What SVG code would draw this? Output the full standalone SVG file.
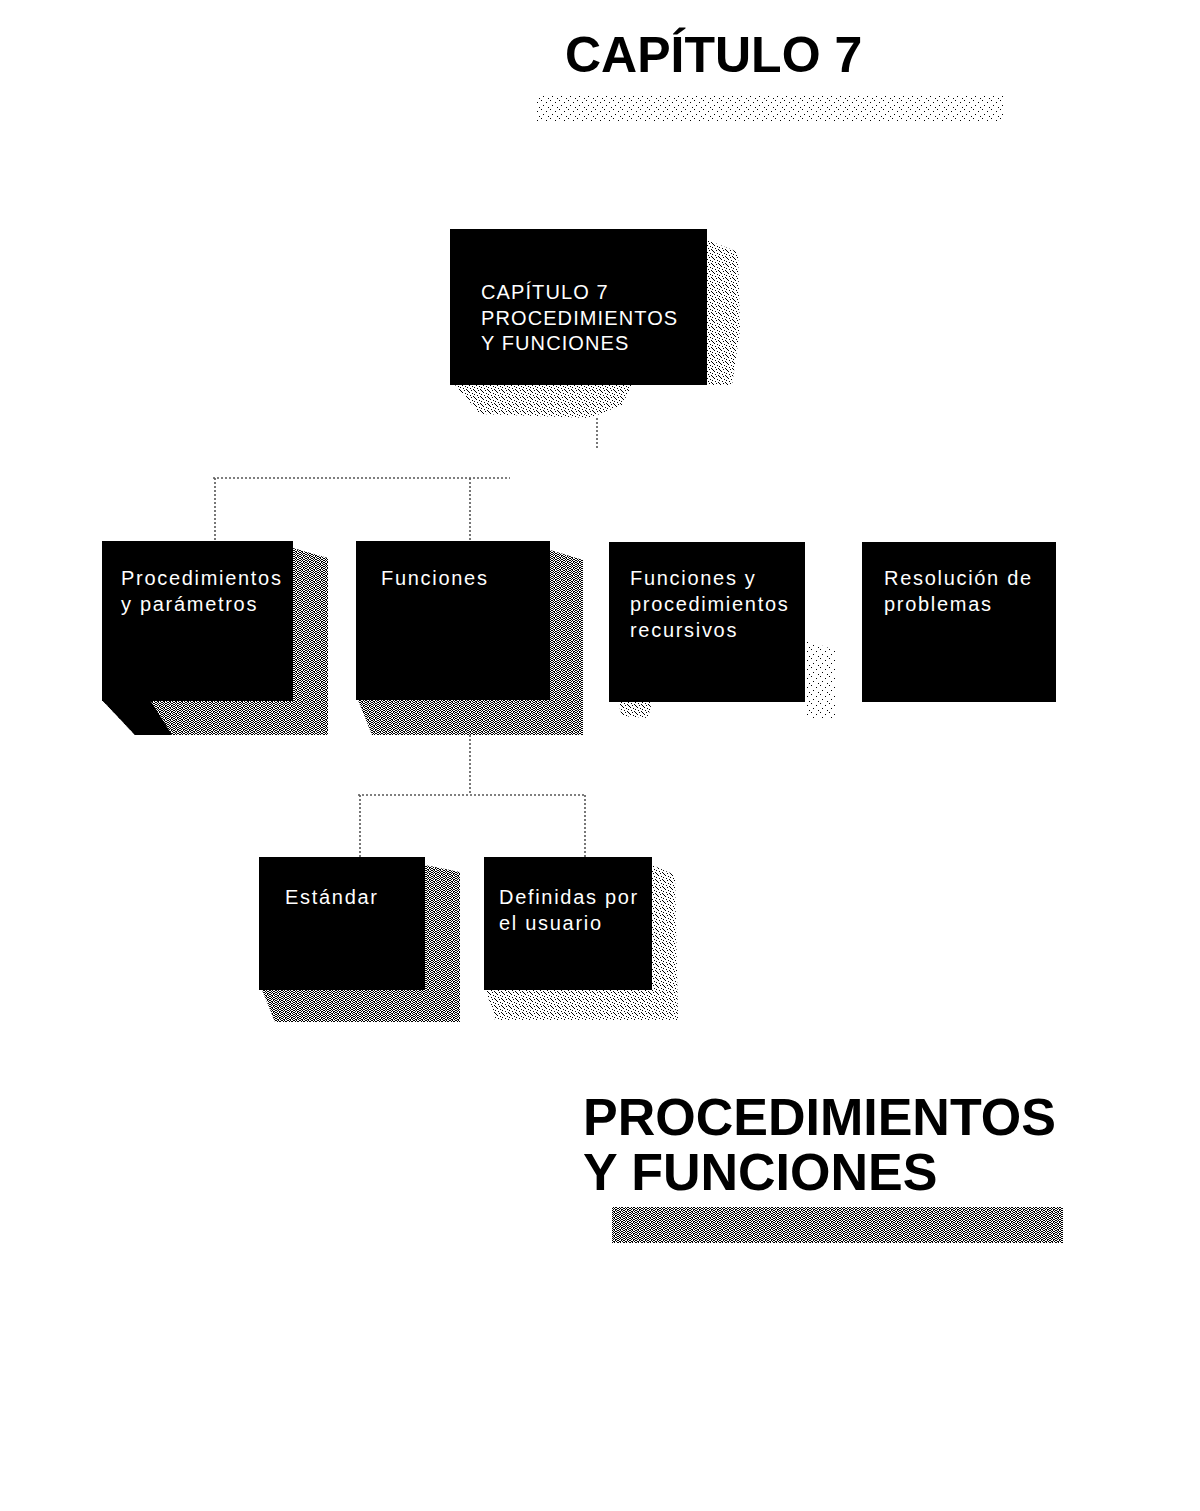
<svg xmlns="http://www.w3.org/2000/svg" width="1200" height="1511" viewBox="0 0 1200 1511">
<defs>
<pattern id="dense" width="6" height="6" patternUnits="userSpaceOnUse">
<rect width="6" height="6" fill="#fff"/>
<g fill="#000">
<rect x="0" y="0" width="1" height="1"/><rect x="2" y="0" width="1" height="1"/><rect x="5" y="0" width="1" height="1"/>
<rect x="1" y="1" width="1" height="1"/><rect x="3" y="1" width="1" height="1"/><rect x="4" y="1" width="1" height="1"/>
<rect x="0" y="2" width="1" height="1"/><rect x="2" y="2" width="1" height="1"/><rect x="5" y="2" width="1" height="1"/>
<rect x="1" y="3" width="1" height="1"/><rect x="4" y="3" width="1" height="1"/><rect x="3" y="3" width="1" height="1"/>
<rect x="0" y="4" width="1" height="1"/><rect x="3" y="4" width="1" height="1"/><rect x="5" y="4" width="1" height="1"/>
<rect x="2" y="5" width="1" height="1"/><rect x="4" y="5" width="1" height="1"/><rect x="1" y="5" width="1" height="1"/>
</g>
</pattern>
<pattern id="light" width="7" height="7" patternUnits="userSpaceOnUse">
<rect width="7" height="7" fill="#fff"/>
<g fill="#000">
<rect x="0" y="0" width="1" height="1"/><rect x="3" y="1" width="1" height="1"/><rect x="5" y="2" width="1" height="1"/>
<rect x="1" y="3" width="1" height="1"/><rect x="4" y="4" width="1" height="1"/><rect x="2" y="5" width="1" height="1"/>
<rect x="6" y="6" width="1" height="1"/><rect x="5" y="5" width="1" height="1"/>
</g>
</pattern>
<pattern id="sparse" width="9" height="9" patternUnits="userSpaceOnUse">
<rect width="9" height="9" fill="#fff"/>
<g fill="#000">
<rect x="1" y="1" width="1" height="1"/><rect x="6" y="3" width="1" height="1"/><rect x="3" y="6" width="1" height="1"/><rect x="8" y="8" width="1" height="1"/>
</g>
</pattern>
</defs>
<style>
.box{fill:#000}
.lbl{font-family:"Liberation Sans",Arial,sans-serif;font-size:20px;fill:#fff;letter-spacing:1.7px}
.ttl{font-family:"Liberation Sans",Arial,sans-serif;font-weight:bold;fill:#000}
.conn{fill:none;stroke:#555;stroke-width:1.6;stroke-dasharray:2 2}
.sh{fill:url(#dense)}
.shl{fill:url(#light)}
.shs{fill:url(#sparse)}
</style>
<rect width="1200" height="1511" fill="#fff"/>

<g id="title-top">
<text class="ttl" x="565" y="72" font-size="50">CAPÍTULO 7</text>
<rect x="535" y="95" width="470" height="27" class="shs"/>
</g>

<g id="connectors">
<path class="conn" d="M597,418 V450"/>
<path class="conn" d="M213,478 H510"/>
<path class="conn" d="M215,478 V541"/>
<path class="conn" d="M470,478 V541"/>
<path class="conn" d="M470,735 V795"/>
<path class="conn" d="M358,795 H585"/>
<path class="conn" d="M360,795 V857"/>
<path class="conn" d="M585,795 V857"/>
</g>

<g id="node-capitulo">
<polygon class="shl" points="707,240 738,252 740,330 732,385 707,385"/>
<polygon class="shl" points="455,385 632,385 622,405 590,418 480,414"/>
<rect class="box" x="450" y="229" width="257" height="156"/>
<text class="lbl" x="481" y="299" style="letter-spacing:1.1px">CAPÍTULO 7</text>
<text class="lbl" x="481" y="325" style="letter-spacing:1.1px">PROCEDIMIENTOS</text>
<text class="lbl" x="481" y="350" style="letter-spacing:1.1px">Y FUNCIONES</text>
</g>

<g id="node-procedimientos">
<polygon class="sh" points="293,548 328,558 328,735 135,735 102,700 293,700"/>
<polygon class="box" points="102,700 135,735 172,735 150,700"/>
<rect class="box" x="102" y="541" width="191" height="160"/>
<text class="lbl" x="121" y="585">Procedimientos</text>
<text class="lbl" x="121" y="611">y parámetros</text>
</g>

<g id="node-funciones">
<polygon class="sh" points="550,550 583,560 583,735 372,735 358,700 550,700"/>
<rect class="box" x="356" y="541" width="194" height="159"/>
<text class="lbl" x="381" y="585">Funciones</text>
</g>

<g id="node-recursivos">
<polygon class="shs" points="805,640 835,650 835,718 805,718"/>
<polygon class="shl" points="618,702 652,702 648,718 622,716"/>
<rect class="box" x="609" y="542" width="196" height="160"/>
<text class="lbl" x="630" y="585">Funciones y</text>
<text class="lbl" x="630" y="611">procedimientos</text>
<text class="lbl" x="630" y="637">recursivos</text>
</g>

<g id="node-resolucion">
<rect class="box" x="862" y="542" width="194" height="160"/>
<text class="lbl" x="884" y="585">Resolución de</text>
<text class="lbl" x="884" y="611">problemas</text>
</g>

<g id="node-estandar">
<polygon class="sh" points="425,865 460,872 460,1022 275,1022 262,990 425,990"/>
<rect class="box" x="259" y="857" width="166" height="133"/>
<text class="lbl" x="285" y="904">Estándar</text>
</g>

<g id="node-definidas">
<polygon class="shl" points="652,865 675,875 678,1020 495,1020 486,990 652,990"/>
<rect class="box" x="484" y="857" width="168" height="133"/>
<text class="lbl" x="499" y="904">Definidas por</text>
<text class="lbl" x="499" y="930">el usuario</text>
</g>

<g id="title-bottom">
<text class="ttl" x="583" y="1135" font-size="52">PROCEDIMIENTOS</text>
<text class="ttl" x="583" y="1190" font-size="52">Y FUNCIONES</text>
<rect x="612" y="1207" width="451" height="36" class="sh"/>
</g>
</svg>
